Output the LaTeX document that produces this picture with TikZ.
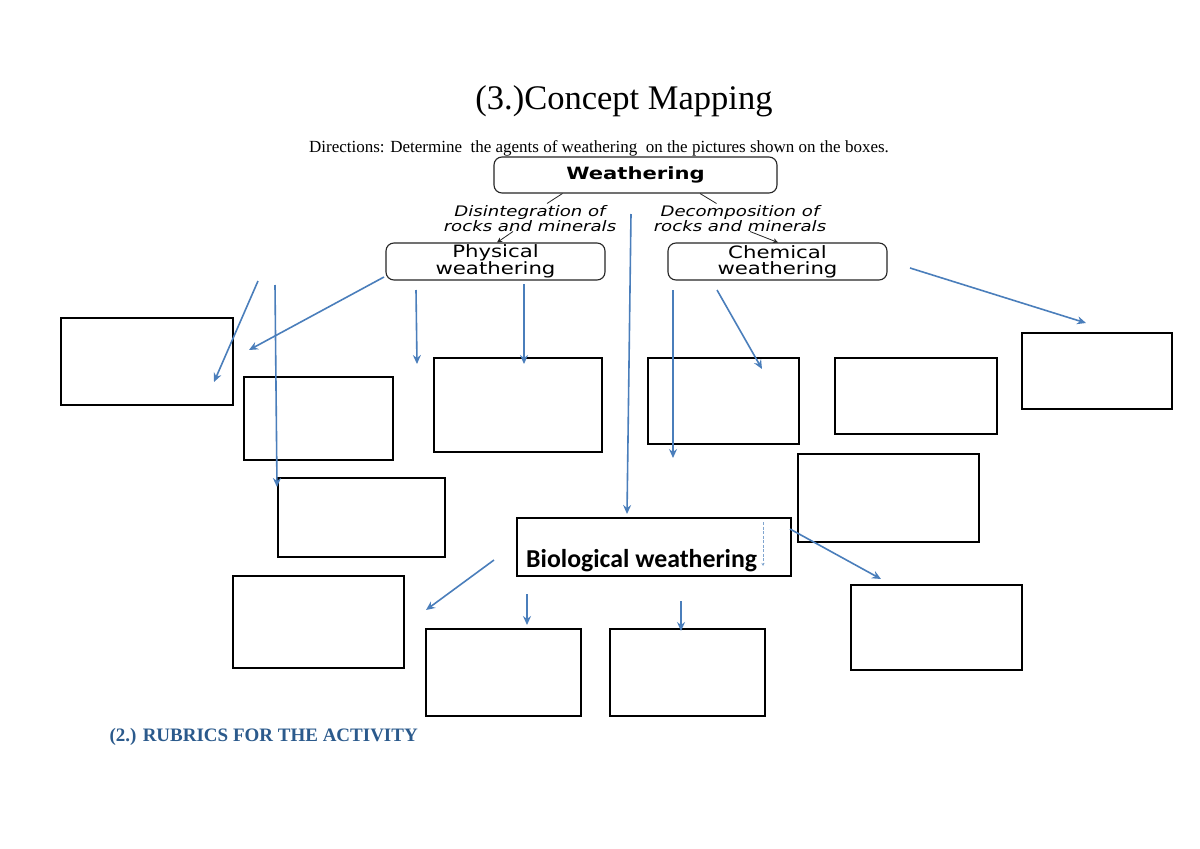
\documentclass[tikz,border=0pt]{standalone}
\usepackage{fontspec}
\setmainfont{Liberation Serif}
\newfontfamily\diag[FakeStretch=1.25]{DejaVu Sans}
\newfontfamily\calib{Carlito}
\usetikzlibrary{arrows.meta}
\definecolor{arrblue}{HTML}{4A7EBB}
\definecolor{rubblue}{HTML}{2B5A8C}
\tikzset{
  bx/.style={draw=black, line width=1.6pt, anchor=north west, inner sep=0pt},
  rbx/.style={draw=black!85, line width=1.1pt, rounded corners=8pt, align=center, inner sep=0pt},
  barrow/.style={draw=arrblue, line width=1.6pt, -{Stealth[length=9pt,width=8pt,inset=3pt]}},
  karrow/.style={draw=black!85, line width=0.8pt, -{Stealth[length=5pt,width=5pt,inset=1.5pt]}},
  kline/.style={draw=black!85, line width=0.8pt},
}
\begin{document}
\begin{tikzpicture}[x=1pt,y=-1pt]
\useasboundingbox (0,0) rectangle (1200,849);
\fill[white] (0,0) rectangle (1200,849);
% titles
\node[font=\fontsize{34.5}{38}\selectfont] (title) at (624,101) {(3.)Concept Mapping};
\node[font=\fontsize{17}{19}\selectfont] (dir) at (599,148) {Directions: Determine\ \ the agents of weathering\ \ on the pictures shown on the boxes.};
\node[anchor=west, text=rubblue, font=\fontsize{19}{21}\selectfont\bfseries] (rub) at (106,737) {(2.) RUBRICS FOR THE ACTIVITY};
% rounded concept boxes
\node[rbx, minimum width=283, minimum height=36, font=\diag\bfseries\fontsize{16.9}{18}\selectfont] (weath) at (635.5,175) {Weathering};
\node[rbx, minimum width=219, minimum height=37, font=\diag\fontsize{17}{16}\selectfont] (phys) at (495.5,261.5) {Physical\\weathering};
\node[rbx, minimum width=219, minimum height=37, font=\diag\fontsize{17}{16}\selectfont] (chem) at (777.5,261.5) {Chemical\\weathering};
\node[align=center, inner sep=0pt, font=\diag\itshape\fontsize{14.5}{13}\selectfont] (dis) at (530,218.5) {Disintegration of\\rocks and minerals};
\node[align=center, inner sep=0pt, font=\diag\itshape\fontsize{14.5}{13}\selectfont] (dec) at (740,218.5) {Decomposition of\\rocks and minerals};
% black connectors
\coordinate (wl) at (562.5,193.5);
\coordinate (wr) at (700,193.5);
\coordinate (dl) at (547,203.5);
\coordinate (dr) at (716.5,203.5);
\coordinate (ls) at (513,231.5);
\coordinate (rs) at (750,231.5);
\coordinate (pl) at (497,242.5);
\coordinate (cr) at (778,242.5);
\draw[kline] (wl) -- (dl);
\draw[kline] (wr) -- (dr);
\draw[karrow] (ls) -- (pl);
\draw[karrow] (rs) -- (cr);
% empty boxes
\node[bx, minimum width=172, minimum height=87] (b1) at (60,317) {};
\node[bx, minimum width=149, minimum height=83] (b2) at (243,376) {};
\node[bx, minimum width=168, minimum height=94] (b3) at (433,357) {};
\node[bx, minimum width=151, minimum height=86] (b4) at (647,357) {};
\node[bx, minimum width=162, minimum height=76] (b5) at (834,357) {};
\node[bx, minimum width=150, minimum height=76] (b6) at (1021,332) {};
\node[bx, minimum width=181, minimum height=88] (b7) at (797,453) {};
\node[bx, minimum width=167, minimum height=79] (b8) at (277,477) {};
\node[bx, minimum width=274, minimum height=58] (bio) at (516,517) {};
\node[bx, minimum width=171, minimum height=92] (b10) at (232,575) {};
\node[bx, minimum width=155, minimum height=87] (b11) at (425,628) {};
\node[bx, minimum width=155, minimum height=87] (b12) at (609,628) {};
\node[bx, minimum width=171, minimum height=85] (b13) at (850,584) {};
\node[anchor=west, inner sep=0pt, font=\calib\bfseries\fontsize{25.8}{27}\selectfont] (biot) at (526,561) {Biological weathering};
% blue arrow coordinates
\coordinate (s1) at (258,281);   \coordinate (e1) at (214,382);
\coordinate (s2) at (384,277);   \coordinate (e2) at (249,350);
\coordinate (s3) at (275,285);   \coordinate (e3) at (277,487);
\coordinate (s4) at (416,290);   \coordinate (e4) at (417,364);
\coordinate (s5) at (524,284);   \coordinate (e5) at (524,364);
\coordinate (s6) at (631,214);   \coordinate (e6) at (627,514);
\coordinate (s7) at (673,290);   \coordinate (e7) at (673,458);
\coordinate (s8) at (717,290);   \coordinate (e8) at (762,369);
\coordinate (s9) at (910,268);   \coordinate (e9) at (1086,323);
\coordinate (s10) at (790,529);  \coordinate (e10) at (881,579);
\coordinate (s11) at (494,560);  \coordinate (e11) at (426,610);
\coordinate (s12) at (527,594);  \coordinate (e12) at (527,625);
\coordinate (s13) at (681,601);  \coordinate (e13) at (681,631);
\coordinate (s14) at (763,522);  \coordinate (e14) at (763,566);
\draw[barrow] (s1) -- (e1);
\draw[barrow] (s2) -- (e2);
\draw[barrow] (s3) -- (e3);
\draw[barrow] (s4) -- (e4);
\draw[barrow] (s5) -- (e5);
\draw[barrow] (s6) -- (e6);
\draw[barrow] (s7) -- (e7);
\draw[barrow] (s8) -- (e8);
\draw[barrow] (s9) -- (e9);
\draw[barrow] (s10) -- (e10);
\draw[barrow] (s11) -- (e11);
\draw[barrow] (s12) -- (e12);
\draw[barrow] (s13) -- (e13);
\draw[draw=arrblue!70, line width=0.6pt, dash pattern=on 3pt off 1.5pt, -{Stealth[length=3pt,width=3pt]}] (s14) -- (e14);
\end{tikzpicture}
\end{document}
